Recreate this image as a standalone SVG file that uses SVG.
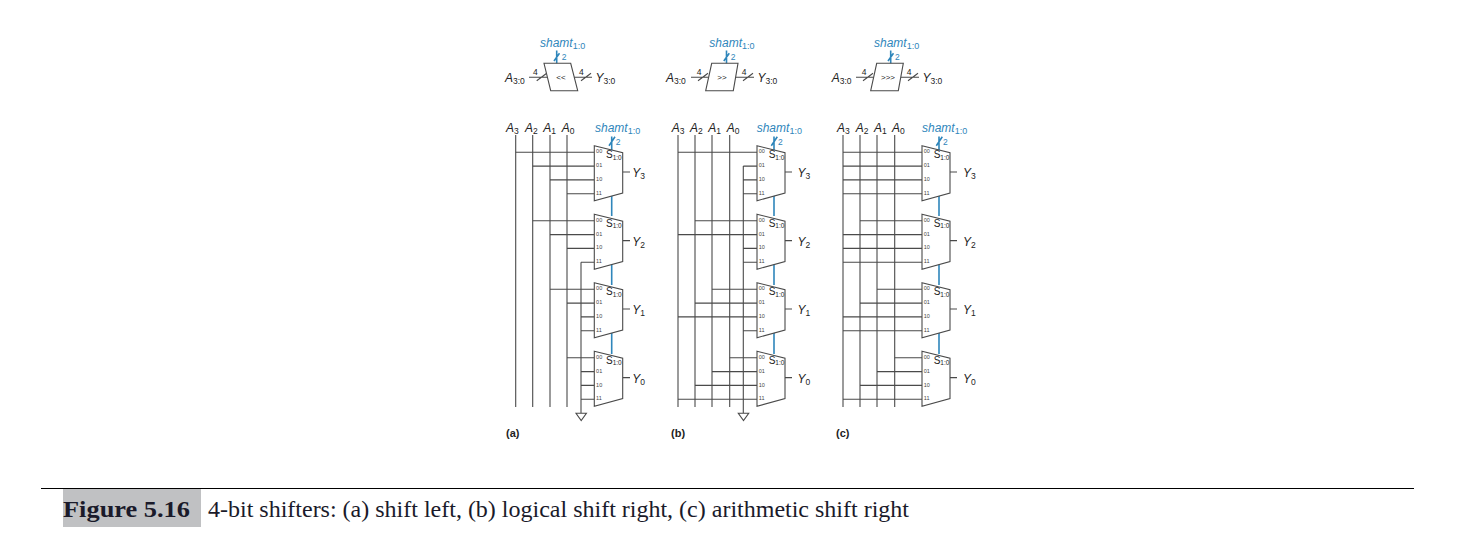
<svg xmlns="http://www.w3.org/2000/svg" width="1471" height="547" viewBox="0 0 1471 547">
<style>
.w{stroke:#4a4a4a;stroke-width:1.1;fill:none}
.m{stroke:#4a4a4a;stroke-width:1.1;fill:#fff}
.b{stroke:#2f86bb;stroke-width:1.6;fill:none}
text{font-family:"Liberation Sans",Arial,sans-serif;fill:#222}
.l{font-size:12px}
.i{font-style:italic}
.s{font-size:8.5px}
.n{font-size:9px;font-style:normal}
.bt{fill:#2f86bb}
.p{font-size:5.5px;fill:#444}
.sel{font-size:10px}
.ss{font-size:6.5px}
.o{font-size:8px}
.f{font-size:11px;font-weight:bold}
.c{font-family:"Liberation Serif",serif;fill:#1a1a2a;font-size:24px}
</style>
<rect width="1471" height="547" fill="#fff"/>
<g id="connectors">
<path class="w" d="M515.7 135V407M532.7 135V407M550 135V407M567 135V407"/>
<path class="w" d="M515.7 152.3H594.3M532.7 166.1H594.3M550 179.9H594.3M567 193.7H594.3M532.7 220.8H594.3M550 234.6H594.3M567 248.4H594.3M581 262.2H594.3M550 289.3H594.3M567 303.1H594.3M581 316.9H594.3M581 330.7H594.3M567 357.8H594.3M581 371.6H594.3M581 385.4H594.3M581 399.2H594.3M581 262.2V413"/>
<path class="w" d="M576 413.3H586.4L581.2 420.5Z"/>
<path class="w" d="M678 135V407M695 135V407M712 135V407M729.7 135V407"/>
<path class="w" d="M678 152.3H757M743.3 166.1H757M743.3 179.9H757M743.3 193.7H757M695 220.8H757M678 234.6H757M743.3 248.4H757M743.3 262.2H757M712 289.3H757M695 303.1H757M678 316.9H757M743.3 330.7H757M729.7 357.8H757M712 371.6H757M695 385.4H757M678 399.2H757M743.3 166.1V413"/>
<path class="w" d="M738.3 413.3H748.7L743.5 420.5Z"/>
<path class="w" d="M843 135V407M860 135V407M877 135V407M894.7 135V407"/>
<path class="w" d="M843 152.3H922M843 166.1H922M843 179.9H922M843 193.7H922M860 220.8H922M843 234.6H922M843 248.4H922M843 262.2H922M877 289.3H922M860 303.1H922M843 316.9H922M843 330.7H922M894.7 357.8H922M877 371.6H922M860 385.4H922M843 399.2H922"/>
<path class="b" d="M611.7 136.5V150M609 145.7L615 136.7M611.7 194V216M611.7 263V285M611.7 331V354"/>
<path class="b" d="M774 136.5V150M771.3 145.7L777.3 136.7M774 194V216M774 263V285M774 331V354"/>
<path class="b" d="M939 136.5V150M936.3 145.7L942.3 136.7M939 194V216M939 263V285M939 331V354"/>
<path class="b" d="M556.7 50.5V64M554 61L559.5 53.3M726.5 50.5V64M723.8 61L729.3 53.3M890.7 50.5V64M888 61L893.5 53.3"/>
<path class="w" d="M529 77.3H547M536.7 80.7L546.7 73.3M574 77.3H592M581 80.7L591 73.3"/>
<path class="w" d="M691 77.3H708.5M698 80.7L708 73.3M736 77.3H754M743 80.7L753 73.3"/>
<path class="w" d="M856 77.3H873.5M863 80.7L873 73.3M901 77.3H919M908 80.7L918 73.3"/>
<path class="w" d="M622.7 172H630M622.7 240.6H630M622.7 309H630M622.7 377.6H630M785 172H792M785 240.6H792M785 309H792M785 377.6H792M950 172H957M950 240.6H957M950 309H957M950 377.6H957"/>
</g>
<g id="shifter-a-symbol">
<path class="m" d="M544 63.3H570.7L577.7 90.7H550.7Z"/>
<text x="561" y="79.5" class="o" text-anchor="middle">&lt;&lt;</text>
<text class="l i bt" x="540" y="46.5">shamt<tspan class="n" dy="2">1:0</tspan></text>
<text class="s bt" x="561.7" y="59.5">2</text>
<text class="s" x="533" y="75">4</text><text class="s" x="579" y="75">4</text>
<text class="l" x="505" y="81.7"><tspan class="i">A</tspan><tspan class="s" dy="2">3:0</tspan></text>
<text class="l" x="595.5" y="81.7"><tspan class="i">Y</tspan><tspan class="s" dy="2">3:0</tspan></text>
</g>
<g id="shifter-b-symbol">
<path class="m" d="M711.7 63.3H738L733.3 90.7H705.7Z"/>
<text x="722" y="79.5" class="o" text-anchor="middle">&gt;&gt;</text>
<text class="l i bt" x="709.3" y="46.5">shamt<tspan class="n" dy="2">1:0</tspan></text>
<text class="s bt" x="730.7" y="59.5">2</text>
<text class="s" x="696.7" y="75">4</text><text class="s" x="741.7" y="75">4</text>
<text class="l" x="666" y="81.7"><tspan class="i">A</tspan><tspan class="s" dy="2">3:0</tspan></text>
<text class="l" x="757.5" y="81.7"><tspan class="i">Y</tspan><tspan class="s" dy="2">3:0</tspan></text>
</g>
<g id="shifter-c-symbol">
<path class="m" d="M876.7 63.3H903.3L898.3 90.7H870.7Z"/>
<text x="888" y="79.5" class="o" text-anchor="middle">&gt;&gt;&gt;</text>
<text class="l i bt" x="874" y="46.5">shamt<tspan class="n" dy="2">1:0</tspan></text>
<text class="s bt" x="895" y="59.5">2</text>
<text class="s" x="861.7" y="75">4</text><text class="s" x="906.7" y="75">4</text>
<text class="l" x="831.7" y="81.7"><tspan class="i">A</tspan><tspan class="s" dy="2">3:0</tspan></text>
<text class="l" x="922.5" y="81.7"><tspan class="i">Y</tspan><tspan class="s" dy="2">3:0</tspan></text>
</g>
<g id="mux-a3" transform="translate(594.3 145.7)"><path class="m" d="M0 0L28.4 7V47.3L0 55Z"/><text class="p" x="1.8" y="7.8">00</text><text class="p" x="1.8" y="21.5">01</text><text class="p" x="1.8" y="35.3">10</text><text class="p" x="1.8" y="49">11</text><text class="sel" x="11.7" y="12.5">S<tspan class="ss" dy="1.5">1:0</tspan></text><text class="l" x="38" y="31.5"><tspan class="i">Y</tspan><tspan class="s" dy="2">3</tspan></text></g>
<g id="mux-a2" transform="translate(594.3 214.2)"><path class="m" d="M0 0L28.4 7V47.3L0 55Z"/><text class="p" x="1.8" y="7.8">00</text><text class="p" x="1.8" y="21.5">01</text><text class="p" x="1.8" y="35.3">10</text><text class="p" x="1.8" y="49">11</text><text class="sel" x="11.7" y="12.5">S<tspan class="ss" dy="1.5">1:0</tspan></text><text class="l" x="38" y="31.5"><tspan class="i">Y</tspan><tspan class="s" dy="2">2</tspan></text></g>
<g id="mux-a1" transform="translate(594.3 282.7)"><path class="m" d="M0 0L28.4 7V47.3L0 55Z"/><text class="p" x="1.8" y="7.8">00</text><text class="p" x="1.8" y="21.5">01</text><text class="p" x="1.8" y="35.3">10</text><text class="p" x="1.8" y="49">11</text><text class="sel" x="11.7" y="12.5">S<tspan class="ss" dy="1.5">1:0</tspan></text><text class="l" x="38" y="31.5"><tspan class="i">Y</tspan><tspan class="s" dy="2">1</tspan></text></g>
<g id="mux-a0" transform="translate(594.3 351.3)"><path class="m" d="M0 0L28.4 7V47.3L0 55Z"/><text class="p" x="1.8" y="7.8">00</text><text class="p" x="1.8" y="21.5">01</text><text class="p" x="1.8" y="35.3">10</text><text class="p" x="1.8" y="49">11</text><text class="sel" x="11.7" y="12.5">S<tspan class="ss" dy="1.5">1:0</tspan></text><text class="l" x="38" y="31.5"><tspan class="i">Y</tspan><tspan class="s" dy="2">0</tspan></text></g>
<g id="mux-b3" transform="translate(757 145.7)"><path class="m" d="M0 0L28 7V47.3L0 55Z"/><text class="p" x="1.8" y="7.8">00</text><text class="p" x="1.8" y="21.5">01</text><text class="p" x="1.8" y="35.3">10</text><text class="p" x="1.8" y="49">11</text><text class="sel" x="11.7" y="12.5">S<tspan class="ss" dy="1.5">1:0</tspan></text><text class="l" x="40.5" y="31.5"><tspan class="i">Y</tspan><tspan class="s" dy="2">3</tspan></text></g>
<g id="mux-b2" transform="translate(757 214.2)"><path class="m" d="M0 0L28 7V47.3L0 55Z"/><text class="p" x="1.8" y="7.8">00</text><text class="p" x="1.8" y="21.5">01</text><text class="p" x="1.8" y="35.3">10</text><text class="p" x="1.8" y="49">11</text><text class="sel" x="11.7" y="12.5">S<tspan class="ss" dy="1.5">1:0</tspan></text><text class="l" x="40.5" y="31.5"><tspan class="i">Y</tspan><tspan class="s" dy="2">2</tspan></text></g>
<g id="mux-b1" transform="translate(757 282.7)"><path class="m" d="M0 0L28 7V47.3L0 55Z"/><text class="p" x="1.8" y="7.8">00</text><text class="p" x="1.8" y="21.5">01</text><text class="p" x="1.8" y="35.3">10</text><text class="p" x="1.8" y="49">11</text><text class="sel" x="11.7" y="12.5">S<tspan class="ss" dy="1.5">1:0</tspan></text><text class="l" x="40.5" y="31.5"><tspan class="i">Y</tspan><tspan class="s" dy="2">1</tspan></text></g>
<g id="mux-b0" transform="translate(757 351.3)"><path class="m" d="M0 0L28 7V47.3L0 55Z"/><text class="p" x="1.8" y="7.8">00</text><text class="p" x="1.8" y="21.5">01</text><text class="p" x="1.8" y="35.3">10</text><text class="p" x="1.8" y="49">11</text><text class="sel" x="11.7" y="12.5">S<tspan class="ss" dy="1.5">1:0</tspan></text><text class="l" x="40.5" y="31.5"><tspan class="i">Y</tspan><tspan class="s" dy="2">0</tspan></text></g>
<g id="mux-c3" transform="translate(922 145.7)"><path class="m" d="M0 0L28 7V47.3L0 55Z"/><text class="p" x="1.8" y="7.8">00</text><text class="p" x="1.8" y="21.5">01</text><text class="p" x="1.8" y="35.3">10</text><text class="p" x="1.8" y="49">11</text><text class="sel" x="11.7" y="12.5">S<tspan class="ss" dy="1.5">1:0</tspan></text><text class="l" x="41" y="31.5"><tspan class="i">Y</tspan><tspan class="s" dy="2">3</tspan></text></g>
<g id="mux-c2" transform="translate(922 214.2)"><path class="m" d="M0 0L28 7V47.3L0 55Z"/><text class="p" x="1.8" y="7.8">00</text><text class="p" x="1.8" y="21.5">01</text><text class="p" x="1.8" y="35.3">10</text><text class="p" x="1.8" y="49">11</text><text class="sel" x="11.7" y="12.5">S<tspan class="ss" dy="1.5">1:0</tspan></text><text class="l" x="41" y="31.5"><tspan class="i">Y</tspan><tspan class="s" dy="2">2</tspan></text></g>
<g id="mux-c1" transform="translate(922 282.7)"><path class="m" d="M0 0L28 7V47.3L0 55Z"/><text class="p" x="1.8" y="7.8">00</text><text class="p" x="1.8" y="21.5">01</text><text class="p" x="1.8" y="35.3">10</text><text class="p" x="1.8" y="49">11</text><text class="sel" x="11.7" y="12.5">S<tspan class="ss" dy="1.5">1:0</tspan></text><text class="l" x="41" y="31.5"><tspan class="i">Y</tspan><tspan class="s" dy="2">1</tspan></text></g>
<g id="mux-c0" transform="translate(922 351.3)"><path class="m" d="M0 0L28 7V47.3L0 55Z"/><text class="p" x="1.8" y="7.8">00</text><text class="p" x="1.8" y="21.5">01</text><text class="p" x="1.8" y="35.3">10</text><text class="p" x="1.8" y="49">11</text><text class="sel" x="11.7" y="12.5">S<tspan class="ss" dy="1.5">1:0</tspan></text><text class="l" x="41" y="31.5"><tspan class="i">Y</tspan><tspan class="s" dy="2">0</tspan></text></g>
<g id="labels-a">
<text class="l" x="506" y="132.3"><tspan class="i">A</tspan><tspan class="s" dy="2">3</tspan></text><text class="l" x="525" y="132.3"><tspan class="i">A</tspan><tspan class="s" dy="2">2</tspan></text><text class="l" x="543.3" y="132.3"><tspan class="i">A</tspan><tspan class="s" dy="2">1</tspan></text><text class="l" x="561.7" y="132.3"><tspan class="i">A</tspan><tspan class="s" dy="2">0</tspan></text>
<text class="l i bt" x="595" y="132.3">shamt<tspan class="n" dy="2">1:0</tspan></text>
<text class="s bt" x="615.7" y="145">2</text>
<text class="f" x="506" y="436.7">(a)</text>
</g>
<g id="labels-b">
<text class="l" x="671.7" y="132.3"><tspan class="i">A</tspan><tspan class="s" dy="2">3</tspan></text><text class="l" x="690" y="132.3"><tspan class="i">A</tspan><tspan class="s" dy="2">2</tspan></text><text class="l" x="708.3" y="132.3"><tspan class="i">A</tspan><tspan class="s" dy="2">1</tspan></text><text class="l" x="726.7" y="132.3"><tspan class="i">A</tspan><tspan class="s" dy="2">0</tspan></text>
<text class="l i bt" x="756.7" y="132.3">shamt<tspan class="n" dy="2">1:0</tspan></text>
<text class="s bt" x="778" y="145">2</text>
<text class="f" x="671" y="436.7">(b)</text>
</g>
<g id="labels-c">
<text class="l" x="837" y="132.3"><tspan class="i">A</tspan><tspan class="s" dy="2">3</tspan></text><text class="l" x="855.7" y="132.3"><tspan class="i">A</tspan><tspan class="s" dy="2">2</tspan></text><text class="l" x="874" y="132.3"><tspan class="i">A</tspan><tspan class="s" dy="2">1</tspan></text><text class="l" x="892" y="132.3"><tspan class="i">A</tspan><tspan class="s" dy="2">0</tspan></text>
<text class="l i bt" x="922" y="132.3">shamt<tspan class="n" dy="2">1:0</tspan></text>
<text class="s bt" x="943" y="145">2</text>
<text class="f" x="836" y="436.7">(c)</text>
</g>
<g id="caption">
<rect x="63" y="489" width="138" height="38" fill="#c0c1c3"/>
<path d="M41 488.5H1414" stroke="#000" stroke-width="1.2"/>
<text class="c" x="63" y="517" font-size="25" font-weight="bold" textLength="127" lengthAdjust="spacingAndGlyphs">Figure 5.16</text>
<text class="c" x="208" y="517" textLength="701" lengthAdjust="spacingAndGlyphs">4-bit shifters: (a) shift left, (b) logical shift right, (c) arithmetic shift right</text>
</g>
</svg>
